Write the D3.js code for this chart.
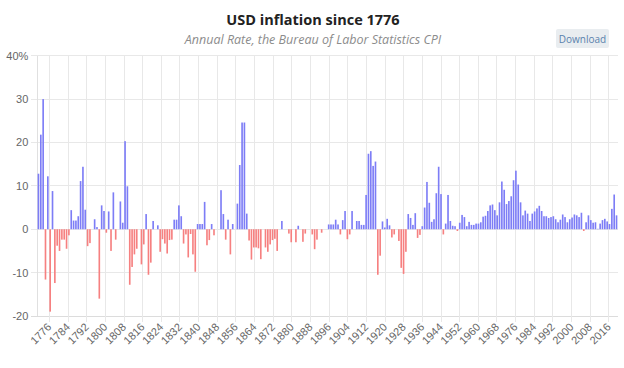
<!DOCTYPE html>
<html><head><meta charset="utf-8">
<script src="https://cdn.jsdelivr.net/npm/d3@7"></script>
<style>
body{margin:0;background:#fff;}
svg{display:block;font-family:"Open Sans","Noto Sans",sans-serif;}
</style></head><body>
<svg id="chart" width="624" height="368"></svg>
<script>
// ---------- data ----------
const firstYear = 1776;
// annual rate, % (1776-1912, historical estimates)
const ratesEarly = [
 12.8, 21.8, 30.0, -11.6, 12.2, -19.0, 8.8, -12.4, -3.8, -5.0,
 -2.4, -2.4, -4.5, -1.4, 4.4, 2.0, 2.0, 3.0, 11.1, 14.4,
 4.5, -3.9, -3.2, 0, 2.3, 0.5, -16.0, 5.5, 4.2, -0.8,
 4.1, -5.0, 8.5, -2.4, 0, 6.4, 1.5, 20.3, 9.9, -12.8,
 -8.7, -5.8, -4.5, 0, -8.1, -3.5, 3.5, -10.5, -7.7, 1.9,
 0, 0.9, -5.2, -2.3, -3.3, -5.6, -2.5, -2.4, 2.2, 2.2,
 5.5, 3.0, -3.3, -1.2, -6.5, -1.1, -5.8, -9.8, 1.2, 1.2,
 1.2, 6.3, -3.7, -2.5, 1.2, -1.4, 0, 0, 9.0, 3.5,
 -2.4, 2.2, -5.8, 1.2, 0, 5.9, 14.8, 24.6, 24.6, 3.6,
 -2.6, -7.0, -4.2, -4.2, -4.4, -6.9, 0, -4.2, -5.2, -3.5,
 -2.5, -2.2, -5.0, 0, 1.9, 0, 0, -1.0, -3.0, 0,
 -3.0, 0.8, 0, -2.9, -1.0, 0, 0, -1.2, -4.6, -2.4,
 0, -0.8, 0, 0, 1.1, 1.1, 1.1, 2.2, 1.1, -1.2,
 2.1, 4.2, -2.3, -1.2, 4.2, 0, 1.9
];
// annual rate, % (1913-2023, BLS CPI)
const ratesBLS = [
 1.9, 1.0, 1.0, 7.9, 17.4, 18.0, 14.6, 15.6, -10.5, -6.1,
 1.8, 0.4, 2.4, 0.9, -1.9, -1.2, 0.0, -2.7, -8.9, -10.3,
 -5.2, 3.5, 2.6, 1.0, 3.7, -2.0, -1.3, 0.7, 5.0, 10.9,
 6.1, 1.7, 2.3, 8.3, 14.4, 8.1, -1.2, 1.3, 7.9, 1.9,
 0.8, 0.7, -0.4, 1.5, 3.3, 2.8, 0.7, 1.7, 1.0, 1.0,
 1.3, 1.3, 1.6, 2.9, 3.1, 4.2, 5.5, 5.7, 4.4, 3.2,
 6.2, 11.0, 9.1, 5.8, 6.5, 7.6, 11.3, 13.5, 10.3, 6.2,
 3.2, 4.3, 3.6, 1.9, 3.6, 4.1, 4.8, 5.4, 4.2, 3.0,
 3.0, 2.6, 2.8, 3.0, 2.3, 1.6, 2.2, 3.4, 2.8, 1.6,
 2.3, 2.7, 3.4, 3.2, 2.8, 3.8, -0.4, 1.6, 3.2, 2.1,
 1.5, 1.6, 0.1, 1.3, 2.1, 2.4, 1.8, 1.2, 4.7, 8.0,
 3.2
];
const rates = ratesEarly.concat(ratesBLS);
const years = rates.map((_, i) => firstYear + i);
const yTicks = [-20, -10, 0, 10, 20, 30, 40];
const xTickLabels = d3.range(1776, 2017, 8);
const labelDomain = [1771.5, 2019.5]; // label axis as drawn in the reference

// ---------- layout ----------
const m = {left: 37.3, right: 617.7, top: 55.7, bottom: 316};
const svg = d3.select("#chart");

const x = d3.scaleBand().domain(years).range([m.left, m.right]).paddingInner(0.3).paddingOuter(0.15);
const xl = d3.scaleLinear().domain(labelDomain).range([m.left + x.step()/2, m.right - x.step()/2]);
const y = d3.scaleLinear().domain([-20, 40]).range([m.bottom, m.top]);

// horizontal grid
svg.append("g").selectAll("line").data(yTicks).join("line")
  .attr("x1", m.left - 6).attr("x2", m.right)
  .attr("y1", d => y(d)).attr("y2", d => y(d))
  .attr("stroke", d => d === -20 ? "#dcdcdc" : "#e8e8e8").attr("stroke-width", 1)
  .attr("shape-rendering", "crispEdges");

// vertical grid with bottom axis labels
const xAxis = d3.axisBottom(xl).tickValues(xTickLabels).tickFormat(d => String(d))
  .tickSize(-(m.bottom - m.top) - 6).tickPadding(0);
const gx = svg.append("g").attr("transform", `translate(0,${m.bottom + 6})`).call(xAxis);
gx.select(".domain").remove();
gx.selectAll(".tick line").attr("stroke", "#e8e8e8").attr("shape-rendering", "crispEdges");
gx.selectAll(".tick text")
  .attr("fill", "#666").attr("font-size", "11px")
  .attr("text-anchor", "end")
  .attr("transform", "translate(0,3) rotate(-45)")
  .attr("dy", "0.35em").attr("y", 0).attr("x", 0);

// left border
svg.append("line").attr("x1", m.left).attr("x2", m.left).attr("y1", m.top).attr("y2", m.bottom)
  .attr("stroke", "#e0e0e0").attr("shape-rendering", "crispEdges");

// y labels
const yAxis = d3.axisLeft(y).tickValues(yTicks).tickFormat(d => d === 40 ? "40%" : String(d)).tickSize(0).tickPadding(0);
const gy = svg.append("g").attr("transform", `translate(${m.left - 9},0)`).call(yAxis);
gy.select(".domain").remove();
gy.selectAll(".tick text").attr("fill", "#666").attr("font-size", "11px");

// bars
svg.append("g").selectAll("rect").data(rates).join("rect")
  .attr("x", (d, i) => x(years[i]))
  .attr("width", x.bandwidth())
  .attr("y", d => y(Math.max(0, d)))
  .attr("height", d => Math.abs(y(d) - y(0)))
  .attr("fill", d => d >= 0 ? "#7d7df6" : "#f68080");

// title & subtitle
svg.append("text").attr("x", 313).attr("y", 25).attr("text-anchor", "middle")
  .attr("font-size", "14.5px").attr("font-weight", "bold").attr("fill", "#222")
  .text("USD inflation since 1776");
svg.append("text").attr("x", 313).attr("y", 44).attr("text-anchor", "middle")
  .attr("font-size", "12.5px").attr("font-style", "italic").attr("fill", "#8c8c8c")
  .text("Annual Rate, the Bureau of Labor Statistics CPI");

// download button
svg.append("rect").attr("x", 556).attr("y", 29).attr("width", 53).attr("height", 19).attr("rx", 2)
  .attr("fill", "#e9edf0");
svg.append("text").attr("x", 582.5).attr("y", 42.5).attr("text-anchor", "middle")
  .attr("font-size", "10px").attr("fill", "#5a82ad").text("Download");
</script>
</body></html>
